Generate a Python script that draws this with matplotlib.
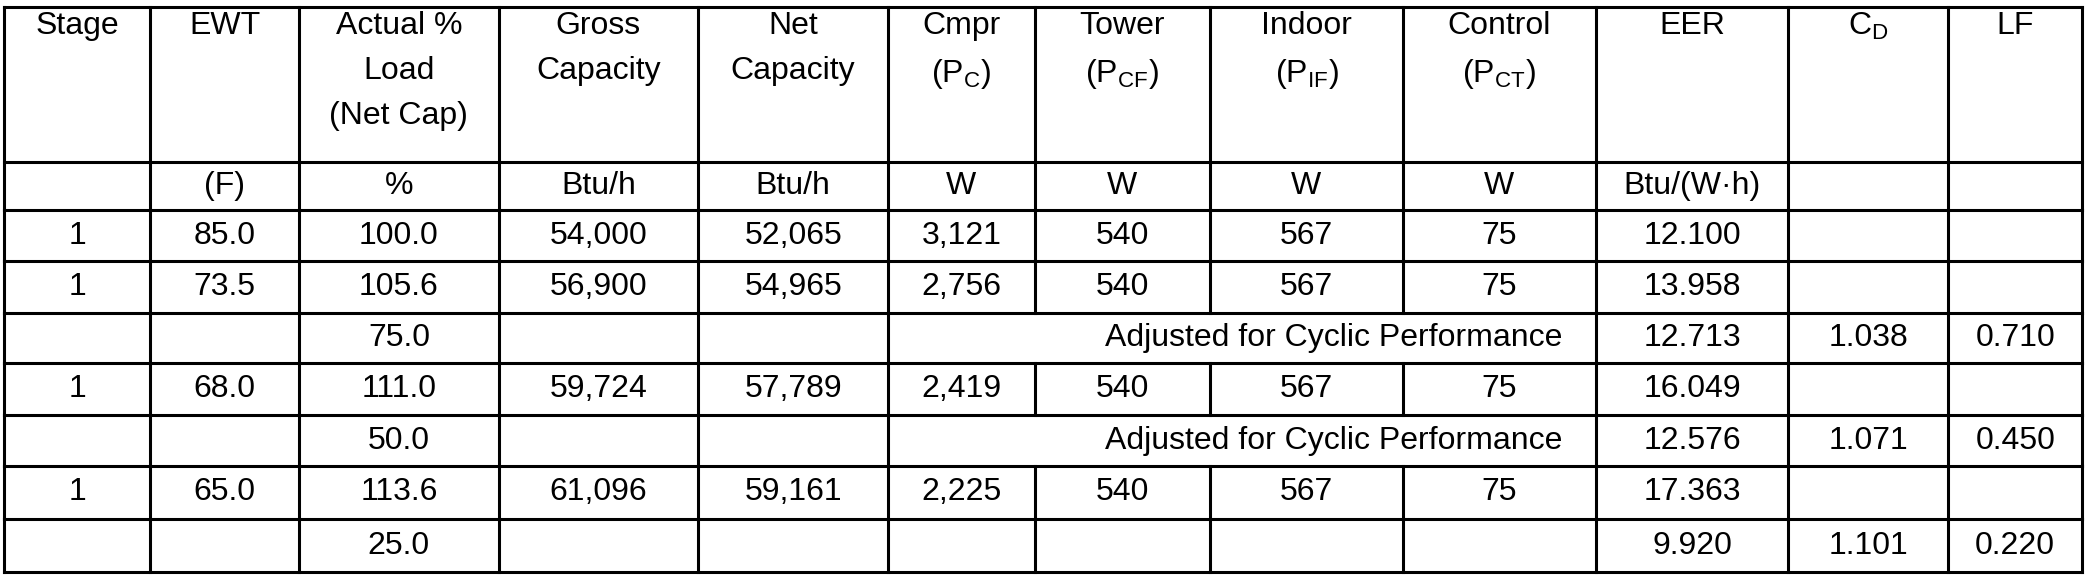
import matplotlib
matplotlib.use("Agg")
import matplotlib.pyplot as plt

plt.rcParams['font.family'] = ['Liberation Sans', 'DejaVu Sans']
plt.rcParams['mathtext.fontset'] = 'custom'
plt.rcParams['mathtext.rm'] = 'Liberation Sans'
plt.rcParams['mathtext.it'] = 'Liberation Sans'

headers = ["Stage", "EWT", "Actual %\nLoad\n(Net Cap)", "Gross\nCapacity", "Net\nCapacity",
           "Cmpr\n(P$_{\\mathrm{C}}$)", "Tower\n(P$_{\\mathrm{CF}}$)", "Indoor\n(P$_{\\mathrm{IF}}$)",
           "Control\n(P$_{\\mathrm{CT}}$)", "EER", "C$_{\\mathrm{D}}$", "LF"]
units = ["", "(F)", "%", "Btu/h", "Btu/h", "W", "W", "W", "W", "Btu/(W·h)", "", ""]
rows = [
    ["1", "85.0", "100.0", "54,000", "52,065", "3,121", "540", "567", "75", "12.100", "", ""],
    ["1", "73.5", "105.6", "56,900", "54,965", "2,756", "540", "567", "75", "13.958", "", ""],
    ["", "", "75.0", "", "", None, None, None, None, "12.713", "1.038", "0.710"],
    ["1", "68.0", "111.0", "59,724", "57,789", "2,419", "540", "567", "75", "16.049", "", ""],
    ["", "", "50.0", "", "", None, None, None, None, "12.576", "1.071", "0.450"],
    ["1", "65.0", "113.6", "61,096", "59,161", "2,225", "540", "567", "75", "17.363", "", ""],
    ["", "", "25.0", "", "", "", "", "", "", "9.920", "1.101", "0.220"],
]
merged_text = "Adjusted for Cyclic Performance"

xs = [3, 113, 225, 375, 525, 668, 778, 910, 1055, 1200, 1345, 1465, 1566]
ys = [5, 122, 158, 196, 235, 273, 312, 350, 390, 430]

fig = plt.figure(figsize=(20.85, 5.79), dpi=100)
ax = fig.add_axes([0, 0, 1, 1])
ax.set_xlim(0, 1568)
ax.set_ylim(435, 0)
ax.axis('off')
fs = 23
lw = 2.2

for y in ys:
    ax.plot([xs[0], xs[-1]], [y, y], color='black', lw=lw)

for i, x in enumerate(xs):
    ax.plot([x, x], [ys[0], ys[2]], color='black', lw=lw)
    for r, row in enumerate(rows):
        y0, y1 = ys[r + 2], ys[r + 3]
        if row[5] is None and 5 < i < 9:
            continue
        ax.plot([x, x], [y0, y1], color='black', lw=lw)

for c in range(12):
    cx = (xs[c] + xs[c + 1]) / 2
    ax.text(cx, ys[0] + 3, headers[c], ha='center', va='top', fontsize=fs, linespacing=1.65)
    ax.text(cx, (ys[1] + ys[2]) / 2, units[c], ha='center', va='center', fontsize=fs)
    for r, row in enumerate(rows):
        cy = (ys[r + 2] + ys[r + 3]) / 2
        v = row[c]
        if v:
            ax.text(cx, cy, v, ha='center', va='center', fontsize=fs)
for r, row in enumerate(rows):
    if row[5] is None:
        cy = (ys[r + 2] + ys[r + 3]) / 2
        ax.text(xs[9] - 25, cy, merged_text, ha='right', va='center', fontsize=fs)

fig.savefig("out.png", dpi=100, facecolor='white')
